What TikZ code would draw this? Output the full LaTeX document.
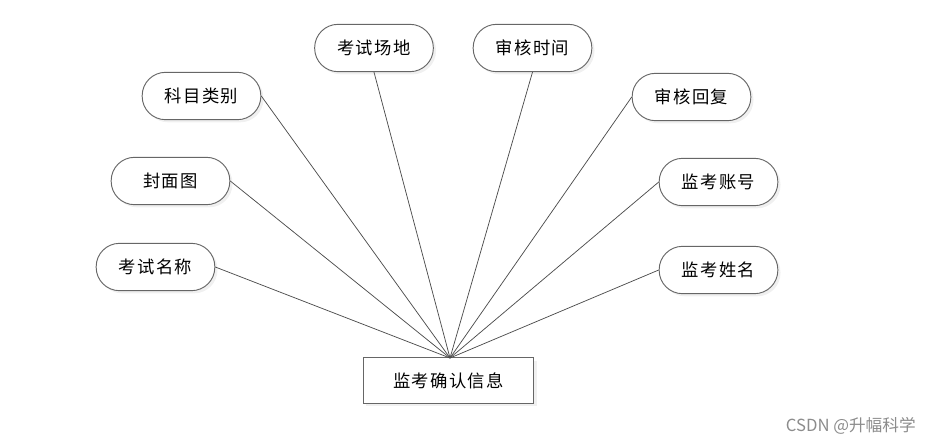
\documentclass[tikz,border=0pt]{standalone}
\usepackage{fontspec}
\newfontfamily\cjk{Noto Sans CJK SC}[LetterSpace=8]
\newfontfamily\wmfont{Noto Sans CJK SC}
\usetikzlibrary{shadows}
\tikzset{
  attr/.style={draw=black!60, line width=0.7pt, fill=white, rounded corners=17.5pt,
    minimum width=89pt, minimum height=35.5pt, inner sep=0pt,
    font=\cjk\fontsize{13}{15}\selectfont,
    drop shadow={opacity=0.12, shadow xshift=2pt, shadow yshift=-2pt}},
  ent/.style={draw=black!60, line width=0.8pt, fill=white,
    minimum width=128pt, minimum height=34pt, inner sep=0pt,
    font=\cjk\fontsize{13}{15}\selectfont,
    drop shadow={opacity=0.12, shadow xshift=2pt, shadow yshift=-2pt}},
  link/.style={draw=black!70, line width=0.55pt}
}
\begin{document}
\begin{tikzpicture}[x=0.75pt,y=-0.75pt]
\useasboundingbox (0,0) rectangle (932,444);
\node[ent] (e) at (448.5,380.5) {监考确认信息};
\coordinate (c) at (450,358);
\node[attr] (a1) at (374,48) {考试场地};
\node[attr] (a2) at (201.5,96) {科目类别};
\node[attr] (a3) at (170.5,181) {封面图};
\node[attr] (a4) at (155.5,267) {考试名称};
\node[attr] (a5) at (532.5,48) {审核时间};
\node[attr] (a6) at (691.5,97) {审核回复};
\node[attr] (a7) at (718.5,182) {监考账号};
\node[attr] (a8) at (718.5,270) {监考姓名};
\draw[link] (a1.south) -- (c);
\draw[link] (a2.east) -- (c);
\draw[link] (a3.east) -- (c);
\draw[link] (a4.east) -- (c);
\draw[link] (a5.south) -- (c);
\draw[link] (a6.west) -- (c);
\draw[link] (a7.west) -- (c);
\draw[link] (a8.west) -- (c);
\node[text=black!45, anchor=east, font=\wmfont\fontsize{12.5}{14}\selectfont, inner sep=0pt] (wm) at (916,426) {CSDN @升幅科学};
\end{tikzpicture}
\end{document}
